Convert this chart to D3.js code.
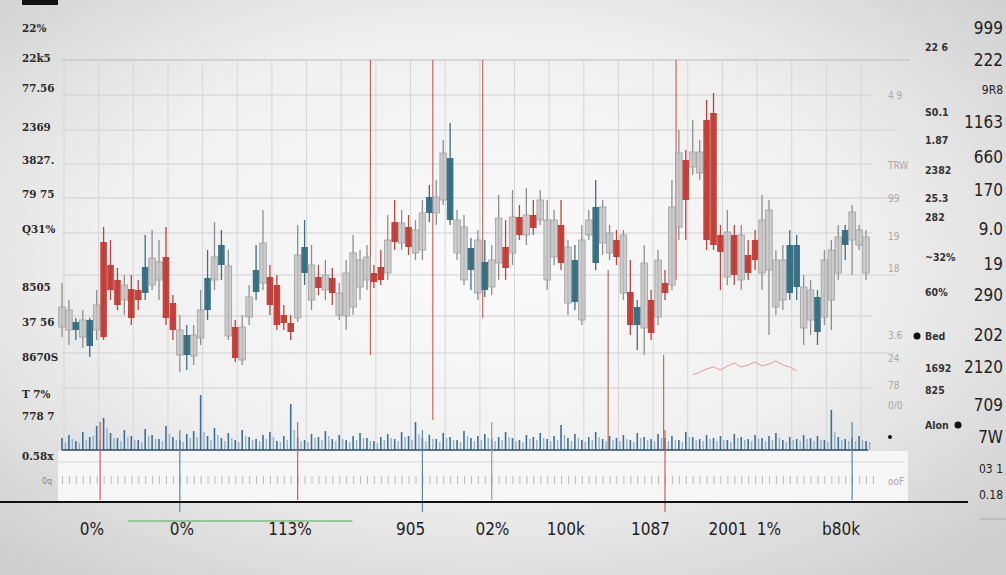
<!DOCTYPE html>
<html><head><meta charset="utf-8">
<script src="https://cdn.jsdelivr.net/npm/d3@7"></script>
<style>html,body{margin:0;padding:0;overflow:hidden;background:#e4e4e4}</style>
</head><body>
<svg id="c" width="1006" height="575"></svg>
<script>
// ---------- DATA ----------
const kinds = ["g","g","t","g","t","g","r","r","r","g",
 "r","r","t","g","g","r","r","g","t","g",
 "g","t","g","t","g","r","g","g","t","g",
 "r","r","r","r","g","t","g","r","g","r",
 "g","g","g","g","g","r","r","g","r","g",
 "r","g","g","t","g","g","t","g","g","t",
 "g","t","g","g","r","g","r","g","r","g",
 "g","g","r","g","t","g","g","t","g","g",
 "r","g","r","t","g","r","g","r","g","g",
 "r","g","g","r","r","r","g","r","g","r",
 "r","g","g","g","g","t","t","g","g","t",
 "g","g","g","t","g","g","g"];
const openP = [148,145,125,135,109,150,213,190,175,170,
 166,165,162,197,193,198,152,125,100,120,
 145,145,198,190,189,128,128,158,163,212,
 178,170,140,132,200,182,190,178,180,177,
 162,182,202,195,198,182,188,215,233,232,
 228,225,242,242,258,302,235,235,228,185,
 215,165,195,237,208,238,238,240,240,255,
 235,235,230,208,153,215,235,192,248,222,
 215,220,163,130,192,155,195,172,248,302,
 295,303,303,335,342,220,223,220,220,200,
 215,235,245,195,195,162,168,168,165,123,
 195,205,218,210,243,225,218];
const closeP = [128,125,133,118,135,125,118,165,150,155,
 137,155,188,170,175,137,125,100,120,99,
 117,177,175,210,119,97,95,138,185,172,
 150,130,132,123,137,208,155,167,165,162,
 140,139,148,168,175,173,175,182,213,212,
 208,202,205,258,242,255,297,202,175,207,
 162,193,168,192,187,202,220,220,227,235,
 175,198,192,152,195,135,220,248,212,202,
 198,162,130,148,127,122,138,162,170,228,
 255,288,282,215,210,203,178,180,175,182,
 195,182,185,148,155,210,210,127,135,158,
 138,155,182,225,215,210,182];
const highP = [172,155,137,145,137,165,228,215,187,180,
 180,175,220,225,215,228,160,140,130,130,
 165,205,233,225,205,135,140,170,210,245,
 190,180,150,140,230,235,210,190,195,187,
 172,195,220,205,210,190,205,240,255,245,
 240,235,255,270,275,315,332,245,240,217,
 225,215,210,260,235,265,250,267,255,265,
 255,245,255,215,210,230,245,275,255,230,
 225,225,195,155,210,165,205,185,275,325,
 305,335,315,355,362,230,245,230,230,215,
 225,260,255,205,210,225,220,180,175,165,
 205,215,230,230,250,230,225];
const lowP = [118,110,115,107,98,115,115,155,145,140,
 130,145,155,165,155,130,115,83,85,90,
 110,135,165,175,115,93,90,130,155,165,
 140,125,125,115,133,170,145,160,155,150,
 135,125,140,155,165,167,170,175,205,205,
 200,195,195,233,230,250,230,195,170,165,
 155,158,160,175,175,190,215,210,220,230,
 165,190,185,140,145,130,215,185,200,195,
 190,155,120,105,100,115,130,155,165,215,
 215,280,275,205,205,165,170,170,165,175,
 185,165,120,140,145,155,155,110,120,110,
 130,125,175,195,180,205,175];
const volA = [12,15,9,18,13,24,32,17,12,20, 14,10,21,15,11,24,13,10,16,19,
 55,14,22,12,17,10,20,13,11,15, 18,9,14,46,12,10,16,13,19,11,
 15,10,14,17,12,9,13,16,11,18, 14,28,12,15,11,17,13,10,19,12,
 14,16,11,13,18,12,10,15,13,17, 11,14,25,12,16,10,13,18,11,14,
 12,15,10,17,13,11,16,12,14,10, 18,13,11,15,12,14,10,16,13,11,
 15,12,14,17,10,13,11,15,12,14, 10,40,13,11,12,14,9];
const volB = [8,11,7,10,14,9,22,12,9,13, 10,8,14,11,9,16,10,8,12,13,
 18,10,15,9,12,8,14,10,9,11, 13,8,10,20,9,8,12,10,14,9,
 11,8,10,12,9,7,10,12,9,13, 10,16,9,11,8,12,10,8,14,9,
 10,12,9,10,13,9,8,11,10,12, 9,10,15,9,12,8,10,13,9,10,
 9,11,8,12,10,9,12,9,10,8, 13,10,9,11,9,10,8,12,10,9,
 11,9,10,12,8,10,9,11,9,10, 8,18,10,9,9,10,8];
const signalIdx = [91,92,93,94,95,96,97,98,99,100,101,102,103,104,105,106];
const signalVal = [80,83,86,88,85,89,92,88,90,93,89,91,94,90,88,84];
const gridVals = [395,360,325,291,257,222,180,139,102,67];
const leftLabels = ["22%","22k5","77.56","2369","3827.","79 75","Q31%","8505","37 56","8670S","T 7%","778 7","0.58x"];
const leftVals = [427,397,367,328,295,261,226,168,133,98,61,39,-1];
const rightALabels = ["22 6","S0.1","1.87","2382","25.3","282","~32%","60%","Bed","1692","825","Alon"];
const rightAVals = [408,343,315,285,257,238,198,163,119,87,65,30];
const rightBLabels = ["999","222","9R8","1163","660","170","9.0","19","290","202","2120","709","7W","03 1","0.18"];
const rightBVals = [427,395,367,333,298,265,226,191,160,120,88,50,18,-12,-38];
const faintLabels = ["4 9","TRW","99","19","18","3.6","24","78","0/0","ooF"];
const faintVals = [360,290,257,219,187,120,97,70,50,-26];
const bottomLabels = ["0%","0%","113%","905","02%","100k","1087","2001","1%","b80k"];
const bottomIdx = [4.3,17.3,32.9,50.3,62.1,72.7,84.9,96.1,102,112.4];
const eventIdx = [44.5,53.5,60.7,88.6,78.8,86.8];
const eventTop = [395,395,395,395,185,100];
const eventBot = [100,35,137,175,5,5];
const lowMarkIdx = [5.5,17,34,52,62,87,114];
const lowMarkKind = ["r","t","r","t","g","r","t"];

// ---------- CHART ----------
const svg = d3.select("#c");
const W = 1006, H = 575;
const defs = svg.append("defs");
const rg = defs.append("radialGradient").attr("id","bg").attr("cx","48%").attr("cy","45%").attr("r","70%");
rg.append("stop").attr("offset","0%").attr("stop-color","#fbfbfb");
rg.append("stop").attr("offset","55%").attr("stop-color","#f0f0f0");
rg.append("stop").attr("offset","100%").attr("stop-color","#cfcfcf");
svg.append("rect").attr("width",W).attr("height",H).attr("fill","url(#bg)");

const n = kinds.length;
const x = d3.scaleLinear().domain([0, n-1]).range([62, 866]);
const step = x(1)-x(0);
const y = d3.scaleLinear().domain([0,400]).range([455,55]);
const yv = d3.scaleLinear().domain([0,60]).range([450,390]);

const col = {r:"#c23a33", t:"#336b80", g:"#c2c2c2"};
const wickCol = {r:"#b8453f", t:"#3d6f84", g:"#8e8e8e"};

// grid
const g0 = svg.append("g");
g0.selectAll("line.h").data(gridVals).join("line")
  .attr("x1",62).attr("x2",(d,i)=> i===0?910:(i%2?872:895))
  .attr("y1",d=>y(d)).attr("y2",d=>y(d))
  .attr("stroke",(d,i)=>i===0?"#b9b9b9":"#d0d0d0").attr("stroke-width",1);
g0.selectAll("line.v").data(d3.range(0,n,5)).join("line")
  .attr("x1",d=>x(d)+2).attr("x2",d=>x(d)+2)
  .attr("y1",y(395)).attr("y2",450)
  .attr("stroke","#d6d6d6").attr("stroke-width",1);

// event lines
svg.append("g").selectAll("line").data(eventIdx).join("line")
  .attr("x1",d=>x(d)).attr("x2",d=>x(d))
  .attr("y1",(d,i)=>y(eventTop[i])).attr("y2",(d,i)=>y(eventBot[i]))
  .attr("stroke","#c0504a").attr("stroke-width",1.2).attr("opacity",0.85);

// signal squiggle
svg.append("path").datum(signalIdx)
  .attr("d", d3.line().x(d=>x(d)).y((d,i)=>y(signalVal[i])))
  .attr("fill","none").attr("stroke","#d9776f").attr("stroke-width",1).attr("opacity",0.7);

// candles
const cg = svg.append("g");
const idx = d3.range(n);
cg.selectAll("line.w").data(idx).join("line")
  .attr("x1",i=>x(i)).attr("x2",i=>x(i))
  .attr("y1",i=>y(highP[i])).attr("y2",i=>y(lowP[i]))
  .attr("stroke",i=>wickCol[kinds[i]]).attr("stroke-width",1.3);
const bw = step*0.95;
cg.selectAll("rect.b").data(idx).join("rect")
  .attr("x",i=>x(i)-bw/2).attr("width",bw)
  .attr("y",i=>y(Math.max(openP[i],closeP[i])))
  .attr("height",i=>Math.max(2,Math.abs(y(openP[i])-y(closeP[i]))))
  .attr("fill",i=>col[kinds[i]])
  .attr("fill-opacity",i=>kinds[i]==="g"?0.8:0.95)
  .attr("stroke",i=>kinds[i]==="g"?"#a0a0a0":"none").attr("stroke-width",0.8);

// lower panel
svg.append("rect").attr("x",58).attr("y",451).attr("width",850).attr("height",50).attr("fill","#f6f6f6");
// volume
const vg = svg.append("g");
vg.selectAll("line.a").data(volA).join("line")
  .attr("x1",(d,i)=>x(i)).attr("x2",(d,i)=>x(i))
  .attr("y1",yv(0)).attr("y2",d=>yv(d))
  .attr("stroke","#3c6f98").attr("stroke-width",1.6);
vg.selectAll("line.b").data(volB).join("line")
  .attr("x1",(d,i)=>x(i)+step/2).attr("x2",(d,i)=>x(i)+step/2)
  .attr("y1",yv(0)).attr("y2",d=>yv(d))
  .attr("stroke","#8fb0c9").attr("stroke-width",1.4);
svg.append("line").attr("x1",62).attr("x2",868).attr("y1",450).attr("y2",450)
  .attr("stroke","#2f4d66").attr("stroke-width",1.5);
svg.append("line").attr("x1",58).attr("x2",905).attr("y1",462).attr("y2",462)
  .attr("stroke","#d8d8d8").attr("stroke-width",1);

// tick row
const tickAxis = d3.axisBottom(x).tickValues(d3.range(0,n+1,1)).tickSize(8).tickFormat("");
const ta = svg.append("g").attr("transform","translate(0,476)").call(tickAxis);
ta.select(".domain").remove();
ta.selectAll("line").attr("stroke","#a9a9a9").attr("stroke-width",0.8);
svg.append("text").attr("x",42).attr("y",484).text("0q").attr("font-size",8).attr("fill","#888").attr("font-family","DejaVu Sans");

// low markers
const lmc = {r:"#c8625a", t:"#5a86a8", g:"#999"};
svg.append("g").selectAll("line").data(lowMarkIdx).join("line")
  .attr("x1",d=>x(d)).attr("x2",d=>x(d))
  .attr("y1",(d,i)=>i%2?yv(20):yv(28)).attr("y2",(d,i)=>i%2?512:500)
  .attr("stroke",(d,i)=>lmc[lowMarkKind[i]]).attr("stroke-width",1.2);

// x axis baseline
svg.append("line").attr("x1",0).attr("x2",968).attr("y1",502).attr("y2",502)
  .attr("stroke","#111").attr("stroke-width",2);
svg.append("line").attr("x1",x(9.5)).attr("x2",x(41.9)).attr("y1",521).attr("y2",521)
  .attr("stroke","#7cbf80").attr("stroke-width",1.5);
svg.append("line").attr("x1",980).attr("x2",1006).attr("y1",519).attr("y2",519)
  .attr("stroke","#aaa").attr("stroke-width",1);

// bottom labels
svg.append("g").selectAll("text").data(bottomLabels).join("text")
  .attr("x",(d,i)=>x(bottomIdx[i])).attr("y",535).attr("text-anchor","middle")
  .attr("font-family","'DejaVu Sans Condensed','Liberation Sans Narrow',sans-serif")
  .attr("font-size",17).attr("fill","#1e1e1e")
  .text(d=>d);

// left labels
svg.append("rect").attr("x",22).attr("y",0).attr("width",36).attr("height",5).attr("fill","#111");
svg.append("g").selectAll("text").data(leftLabels).join("text")
  .attr("x",22).attr("y",(d,i)=>y(leftVals[i])+4)
  .attr("font-family","'DejaVu Serif Condensed','DejaVu Sans Condensed',serif")
  .attr("font-weight","bold")
  .attr("font-size",11.5).attr("fill","#2a2a2a").text(d=>d);

// right labels A
svg.append("g").selectAll("text").data(rightALabels).join("text")
  .attr("x",925).attr("y",(d,i)=>y(rightAVals[i])+4)
  .attr("font-family","'DejaVu Sans Condensed',sans-serif").attr("font-weight","bold")
  .attr("font-size",10.5).attr("fill","#333").text(d=>d);
// faint
svg.append("g").selectAll("text").data(faintLabels).join("text")
  .attr("x",888).attr("y",(d,i)=>y(faintVals[i])+4)
  .attr("font-family","'DejaVu Sans Condensed',sans-serif")
  .attr("font-size",10).attr("fill","#a8a8a8").text(d=>d);
// right labels B
svg.append("g").selectAll("text").data(rightBLabels).join("text")
  .attr("x",1003).attr("text-anchor","end").attr("y",(d,i)=>y(rightBVals[i])+6)
  .attr("font-family","'Liberation Sans Narrow','DejaVu Sans Condensed',sans-serif")
  .attr("font-size",(d,i)=> (i===2||i>=13) ? 12 : 17).attr("fill","#222").text(d=>d);
// dots
svg.append("g").selectAll("circle").data([119,30,18]).join("circle")
  .attr("cx",(d,i)=>[917,958,890][i]).attr("cy",d=>y(d))
  .attr("r",(d,i)=>i===2?2:3.5).attr("fill","#111");
</script>
</body></html>
